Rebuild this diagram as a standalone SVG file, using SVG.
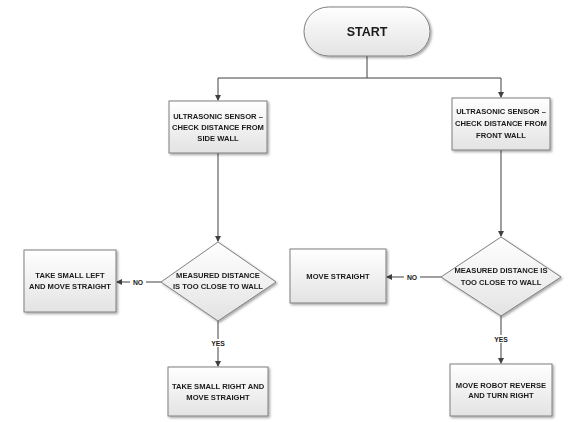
<svg xmlns="http://www.w3.org/2000/svg" width="587" height="422" viewBox="0 0 587 422">
<style>
.n{stroke:#7f7f7f;stroke-width:1;fill:url(#g)}
.t{font-family:"Liberation Sans",Arial,sans-serif;font-weight:bold;font-size:7.6px;fill:#1a1a1a;text-anchor:middle}
.c{stroke:#404040;stroke-width:1;fill:none}
.l{font-family:"Liberation Sans",Arial,sans-serif;font-weight:bold;font-size:6.8px;fill:#1a1a1a;text-anchor:middle}
</style>
<defs>
<linearGradient id="g" x1="0" y1="0" x2="0" y2="1"><stop offset="0" stop-color="#ffffff"/><stop offset="1" stop-color="#e3e3e3"/></linearGradient>
<filter id="sh" x="-10%" y="-10%" width="130%" height="130%"><feDropShadow dx="1.5" dy="1.5" stdDeviation="0.8" flood-color="#000" flood-opacity="0.35"/></filter>
<marker id="a" markerWidth="6" markerHeight="6" refX="5" refY="3" orient="auto" markerUnits="userSpaceOnUse"><path d="M0,0 L6,3 L0,6 Z" fill="#404040"/></marker>
</defs>
<rect width="587" height="422" fill="#fff"/>
<g id="connectors">
<path class="c" d="M367,56 V78 M218,78 H501"/>
<path class="c" d="M218,78 V100" marker-end="url(#a)"/>
<path class="c" d="M501,78 V97" marker-end="url(#a)"/>
<path class="c" d="M218,153 V241" marker-end="url(#a)"/>
<path class="c" d="M501,150 V236" marker-end="url(#a)"/>
<path class="c" d="M161,282 H117" marker-end="url(#a)"/>
<path class="c" d="M218,321 V366" marker-end="url(#a)"/>
<path class="c" d="M441,277 H387" marker-end="url(#a)"/>
<path class="c" d="M501,316 V363" marker-end="url(#a)"/>
<rect x="130" y="278" width="16" height="8" fill="#fff"/>
<text class="l" x="138" y="284.5">NO</text>
<rect x="211" y="339" width="15" height="8" fill="#fff"/>
<text class="l" x="218" y="346">YES</text>
<rect x="404" y="273" width="16" height="8" fill="#fff"/>
<text class="l" x="412" y="279.5">NO</text>
<rect x="494" y="335" width="15" height="8" fill="#fff"/>
<text class="l" x="501" y="342">YES</text>
</g>
<g id="start" filter="url(#sh)">
<rect class="n" x="304" y="7" width="126" height="49" rx="24.5"/>
<text class="t" x="367" y="36" style="font-size:12.5px">START</text>
</g>
<g id="side-sensor" filter="url(#sh)">
<rect class="n" x="169" y="101" width="98" height="52"/>
<text class="t" x="218" y="119">ULTRASONIC SENSOR –</text>
<text class="t" x="218" y="130">CHECK DISTANCE FROM</text>
<text class="t" x="218" y="141">SIDE WALL</text>
</g>
<g id="front-sensor" filter="url(#sh)">
<rect class="n" x="452" y="98" width="98" height="52"/>
<text class="t" x="501" y="114">ULTRASONIC SENSOR –</text>
<text class="t" x="501" y="126">CHECK DISTANCE FROM</text>
<text class="t" x="501" y="138">FRONT WALL</text>
</g>
<g id="side-decision" filter="url(#sh)">
<path class="n" d="M218,242 L276,282 L218,321 L161,282 Z"/>
<text class="t" x="218" y="278">MEASURED DISTANCE</text>
<text class="t" x="218" y="289">IS TOO CLOSE TO WALL</text>
</g>
<g id="front-decision" filter="url(#sh)">
<path class="n" d="M501,237 L561,277 L501,316 L441,277 Z"/>
<text class="t" x="501" y="273">MEASURED DISTANCE IS</text>
<text class="t" x="501" y="285">TOO CLOSE TO WALL</text>
</g>
<g id="take-left" filter="url(#sh)">
<rect class="n" x="24" y="250" width="92" height="62"/>
<text class="t" x="70" y="278">TAKE SMALL LEFT</text>
<text class="t" x="70" y="289">AND MOVE STRAIGHT</text>
</g>
<g id="take-right" filter="url(#sh)">
<rect class="n" x="168" y="367" width="100" height="49"/>
<text class="t" x="218" y="389">TAKE SMALL RIGHT AND</text>
<text class="t" x="218" y="400">MOVE STRAIGHT</text>
</g>
<g id="move-straight" filter="url(#sh)">
<rect class="n" x="290" y="249" width="96" height="54"/>
<text class="t" x="338" y="279">MOVE STRAIGHT</text>
</g>
<g id="reverse" filter="url(#sh)">
<rect class="n" x="450" y="364" width="102" height="52"/>
<text class="t" x="501" y="388">MOVE ROBOT REVERSE</text>
<text class="t" x="501" y="398">AND TURN RIGHT</text>
</g>
</svg>
